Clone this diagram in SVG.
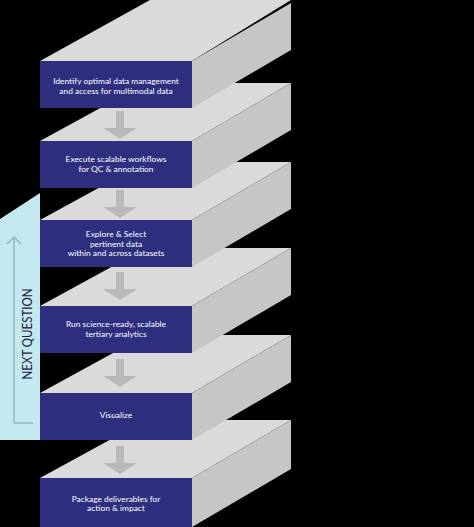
<svg xmlns="http://www.w3.org/2000/svg" width="474" height="527" viewBox="0 0 474 527">
  <defs>
    <style>
      .top{fill:#dadada}
      .side{fill:#c6c6c6}
      .front{fill:#2e307f}
      .lbl{font-family:Lato,"Liberation Sans",sans-serif;font-size:8.4px;fill:#ffffff;text-anchor:middle}
      .arr{fill:#b9b9b9}
    </style>
    <path id="darrow" d="M-4,0 H4 V17 H17 L0,28 L-17,17 H-4 Z"/>
  </defs>
  <rect x="0" y="0" width="474" height="527" fill="#000000"/>

  <!-- next question side panel -->
  <g id="next-question">
    <polygon points="0,219 40,193 40,440 0,440" fill="#c3e8f0"/>
    <polyline points="14,237 14,423 33,423" fill="none" stroke="#9bb5bd" stroke-width="1.5"/>
    <polyline points="7,244 14,237 21,244" fill="none" stroke="#9bb5bd" stroke-width="1.5"/>
    <text x="0" y="0" transform="translate(31.5,334) rotate(-90)" font-family="Lato,'Liberation Sans',sans-serif" font-size="13" fill="#1c2340" text-anchor="middle" textLength="91" lengthAdjust="spacingAndGlyphs">NEXT QUESTION</text>
  </g>

  <g id="step6">
    <polygon class="top" points="40,478 192,478 291,420 146,420"/>
    <polygon class="side" points="192,478 291,420 291,469 192,527"/>
    <rect class="front" x="40" y="478" width="152" height="49"/>
    <text class="lbl" x="116" y="501.5">Package deliverables for</text>
    <text class="lbl" x="116" y="511">action &amp; impact</text>
  </g>
  <g id="step5">
    <polygon class="top" points="40,393 192,393 291,335 146,335"/>
    <polygon class="side" points="192,393 291,335 291,382 192,440"/>
    <rect class="front" x="40" y="393" width="152" height="47"/>
    <text class="lbl" x="116" y="418">Visualize</text>
  </g>
  <g id="step4">
    <polygon class="top" points="40,306 192,306 291,248 146,248"/>
    <polygon class="side" points="192,306 291,248 291,295 192,353"/>
    <rect class="front" x="40" y="306" width="152" height="47"/>
    <text class="lbl" x="116" y="327">Run science-ready, scalable</text>
    <text class="lbl" x="116" y="337">tertiary analytics</text>
  </g>
  <g id="step3">
    <polygon class="top" points="40,220 192,220 291,162 146,162"/>
    <polygon class="side" points="192,220 291,162 291,209 192,267"/>
    <rect class="front" x="40" y="220" width="152" height="47"/>
    <text class="lbl" x="116" y="237">Explore &amp; Select</text>
    <text class="lbl" x="116" y="246.5">pertinent data</text>
    <text class="lbl" x="116" y="256">within and across datasets</text>
  </g>
  <g id="step2">
    <polygon class="top" points="40,141 192,141 291,83 146,83"/>
    <polygon class="side" points="192,141 291,83 291,130 192,188"/>
    <rect class="front" x="40" y="141" width="152" height="47"/>
    <text class="lbl" x="116" y="162">Execute scalable workflows</text>
    <text class="lbl" x="116" y="172">for QC &amp; annotation</text>
  </g>
  <g id="step1">
    <polygon class="top" points="40,61 192,61 291,0 150,0"/>
    <polygon class="side" points="192,61 291,3 291,50 192,108"/>
    <rect class="front" x="40" y="61" width="152" height="47"/>
    <text class="lbl" x="116" y="84">Identify optimal data management</text>
    <text class="lbl" x="116" y="94">and access for multimodal data</text>
  </g>

  <g id="connectors" class="arr">
    <use href="#darrow" x="120" y="111"/>
    <use href="#darrow" x="120" y="190"/>
    <use href="#darrow" x="120" y="272"/>
    <use href="#darrow" x="120" y="359"/>
    <use href="#darrow" x="120" y="446"/>
  </g>
</svg>
